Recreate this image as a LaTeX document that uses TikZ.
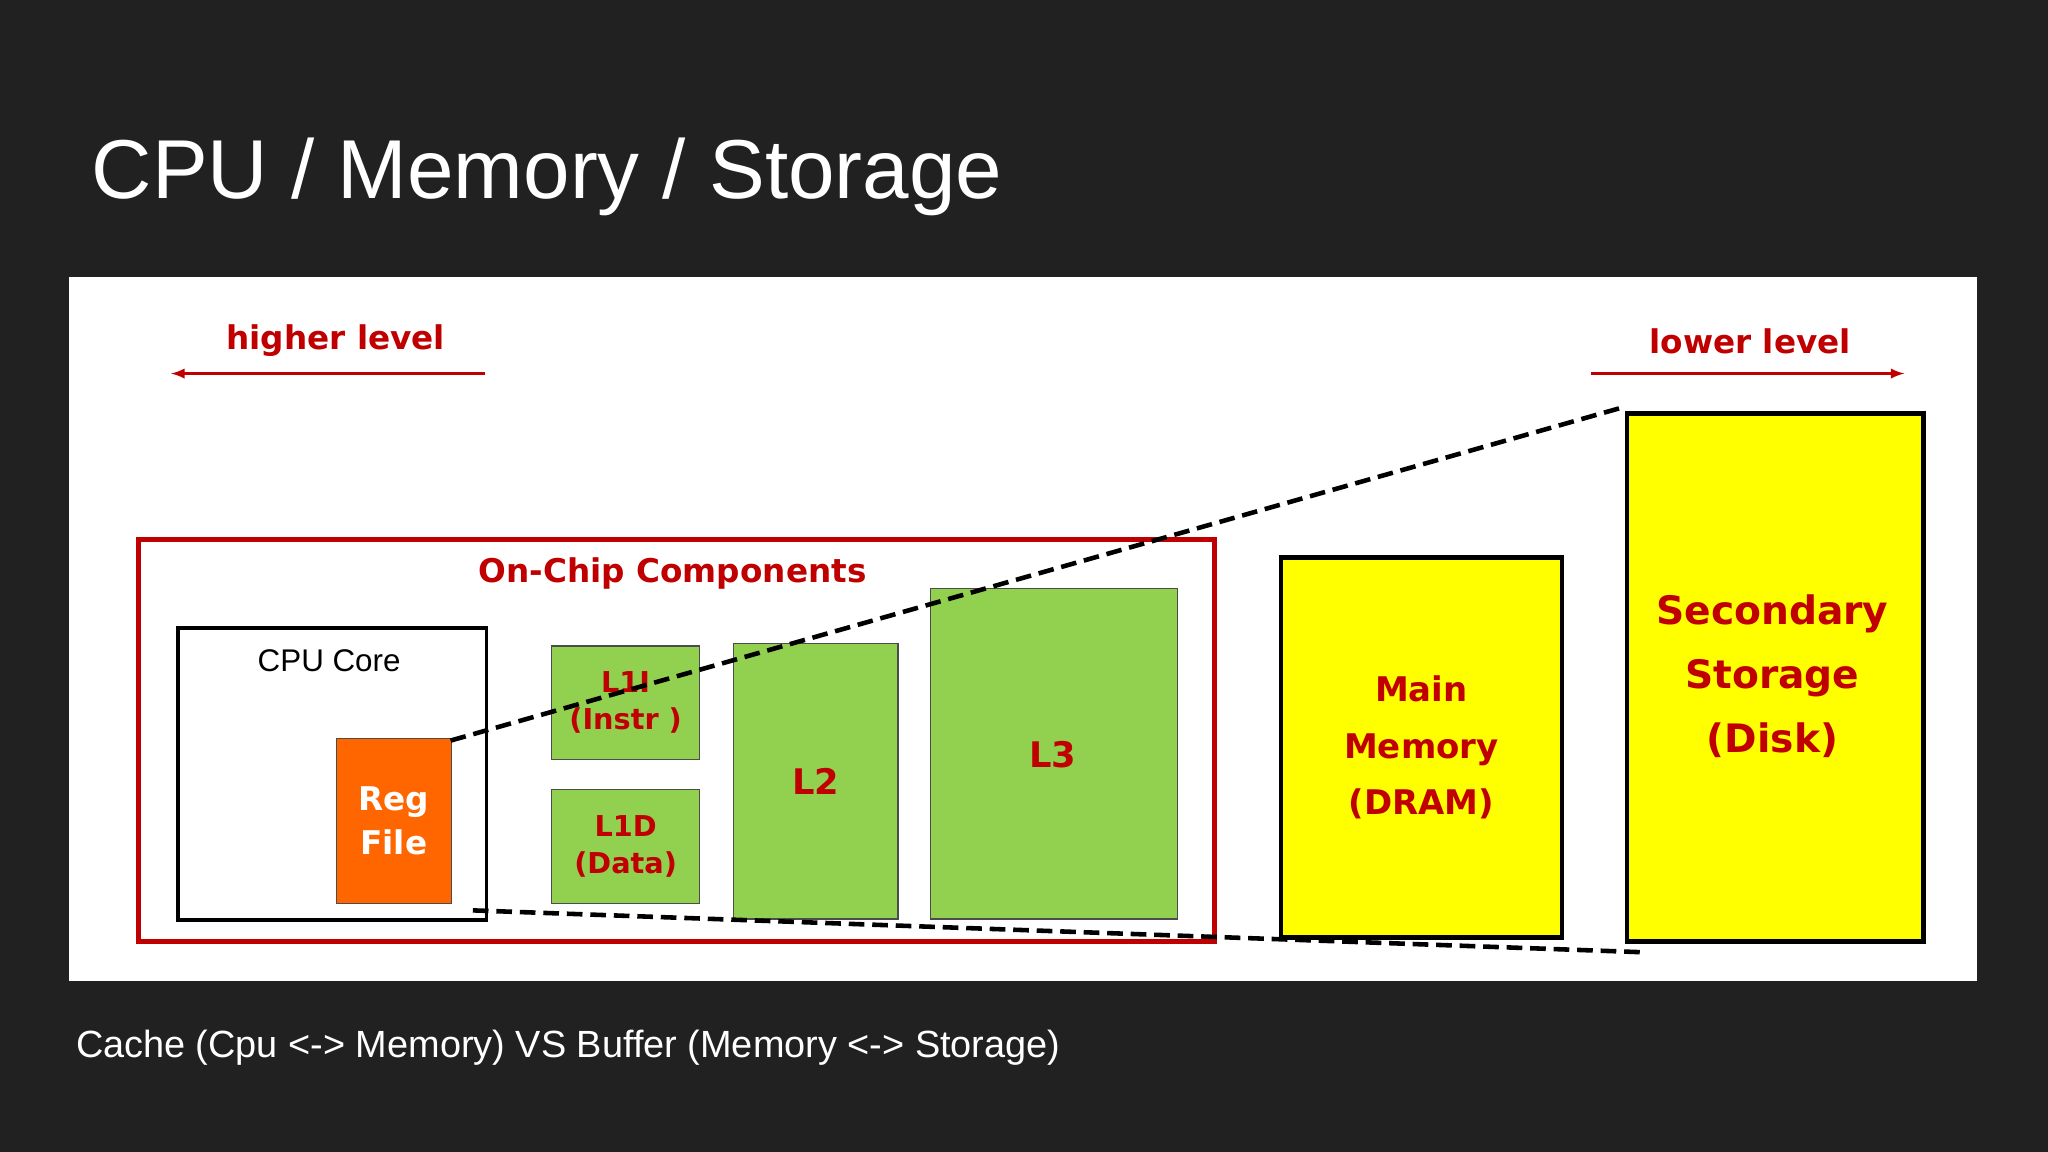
\documentclass[tikz,border=0pt]{standalone}
\usepackage{fontspec}
\setmainfont{Liberation Sans}
\newfontfamily\dv{DejaVu Sans}
\begin{document}
\definecolor{bg}{HTML}{212121}
\definecolor{rd}{HTML}{C00000}
\definecolor{gr}{HTML}{92D050}
\definecolor{ye}{HTML}{FFFF00}
\definecolor{og}{HTML}{FF6600}
\begin{tikzpicture}[x=1pt,y=-1pt,
  box/.style={draw=black,line width=3pt,anchor=north west,inner sep=0pt},
  grn/.style={draw=black!70,line width=1pt,fill=gr,anchor=north west,inner sep=0pt,align=center,text=rd,font=\dv\bfseries\fontsize{22}{28}\selectfont},
  yel/.style={draw=black,line width=3.5pt,fill=ye,anchor=north west,inner sep=0pt,align=center,text=rd},
  lab/.style={text=rd,font=\dv\bfseries\fontsize{25}{30}\selectfont},
  dashln/.style={line width=3.5pt,dash pattern=on 12pt off 6pt},
  arr/.style={rd,line width=2.5pt,-latex}]
\useasboundingbox[fill=bg] (0,0) rectangle (1568,882);
\node[anchor=base west,text=white,font=\fontsize{64}{70}\selectfont,inner sep=0pt] (title) at (70,152) {CPU / Memory / Storage};
\fill[white] (53,212) rectangle (1514,751);
\node[lab] (hl) at (257,261) {higher level};
\coordinate (hla) at (371,286); \coordinate (hlb) at (131,286);
\draw[arr] (hla) -- (hlb);
\node[lab] (ll) at (1340,261) {lower level};
\coordinate (lla) at (1218,286); \coordinate (llb) at (1458,286);
\draw[arr] (lla) -- (llb);
\node[draw=rd,line width=4pt,anchor=north west,minimum width=824pt,minimum height=308pt,inner sep=0pt] (chip) at (104,411) {};
\node[lab] (chipt) at (515,439) {On-Chip Components};
\node[box,minimum width=236pt,minimum height=224pt] (core) at (135,479) {};
\node[font=\fontsize{24}{28}\selectfont] (coret) at (252,506) {CPU Core};
\node[draw=black!70,line width=1pt,fill=og,anchor=north west,inner sep=0pt,minimum width=88pt,minimum height=126pt,align=center,text=white,font=\dv\bfseries\fontsize{25}{34}\selectfont] (reg) at (257,565) {Reg\\File};
\node[grn,minimum width=113pt,minimum height=87pt] (l1i) at (422,494) {L1I\\(Instr )};
\node[grn,minimum width=113pt,minimum height=87pt] (l1d) at (422,604) {L1D\\(Data)};
\node[grn,minimum width=126pt,minimum height=211pt,font=\dv\bfseries\fontsize{27}{30}\selectfont] (l2) at (561,492) {L2};
\node[grn,minimum width=189pt,minimum height=253pt,anchor=north west] (l3) at (712,450) {};
\node[text=rd,font=\dv\bfseries\fontsize{27}{30}\selectfont] (l3t) at (806,578) {L3};
\node[yel,minimum width=215pt,minimum height=291pt,font=\dv\bfseries\fontsize{26}{43}\selectfont] (mm) at (979,425) {Main\\Memory\\(DRAM)};
\node[yel,minimum width=227pt,minimum height=404pt,anchor=north west] (ss) at (1244,315) {};
\node[text=rd,align=center,font=\dv\bfseries\fontsize{30}{49}\selectfont] (sst) at (1357,518) {Secondary\\Storage\\(Disk)};
\coordinate (d1a) at (345,567); \coordinate (d1b) at (1242,312);
\coordinate (d2a) at (362,697); \coordinate (d2b) at (1256,729);
\draw[dashln] (d1a) -- (d1b);
\draw[dashln] (d2a) -- (d2b);
\node[anchor=base west,text=white,font=\fontsize{29}{34}\selectfont,inner sep=0pt] (cap) at (58,810) {Cache (Cpu <-> Memory) VS Buffer (Memory <-> Storage)};
\end{tikzpicture}
\end{document}
